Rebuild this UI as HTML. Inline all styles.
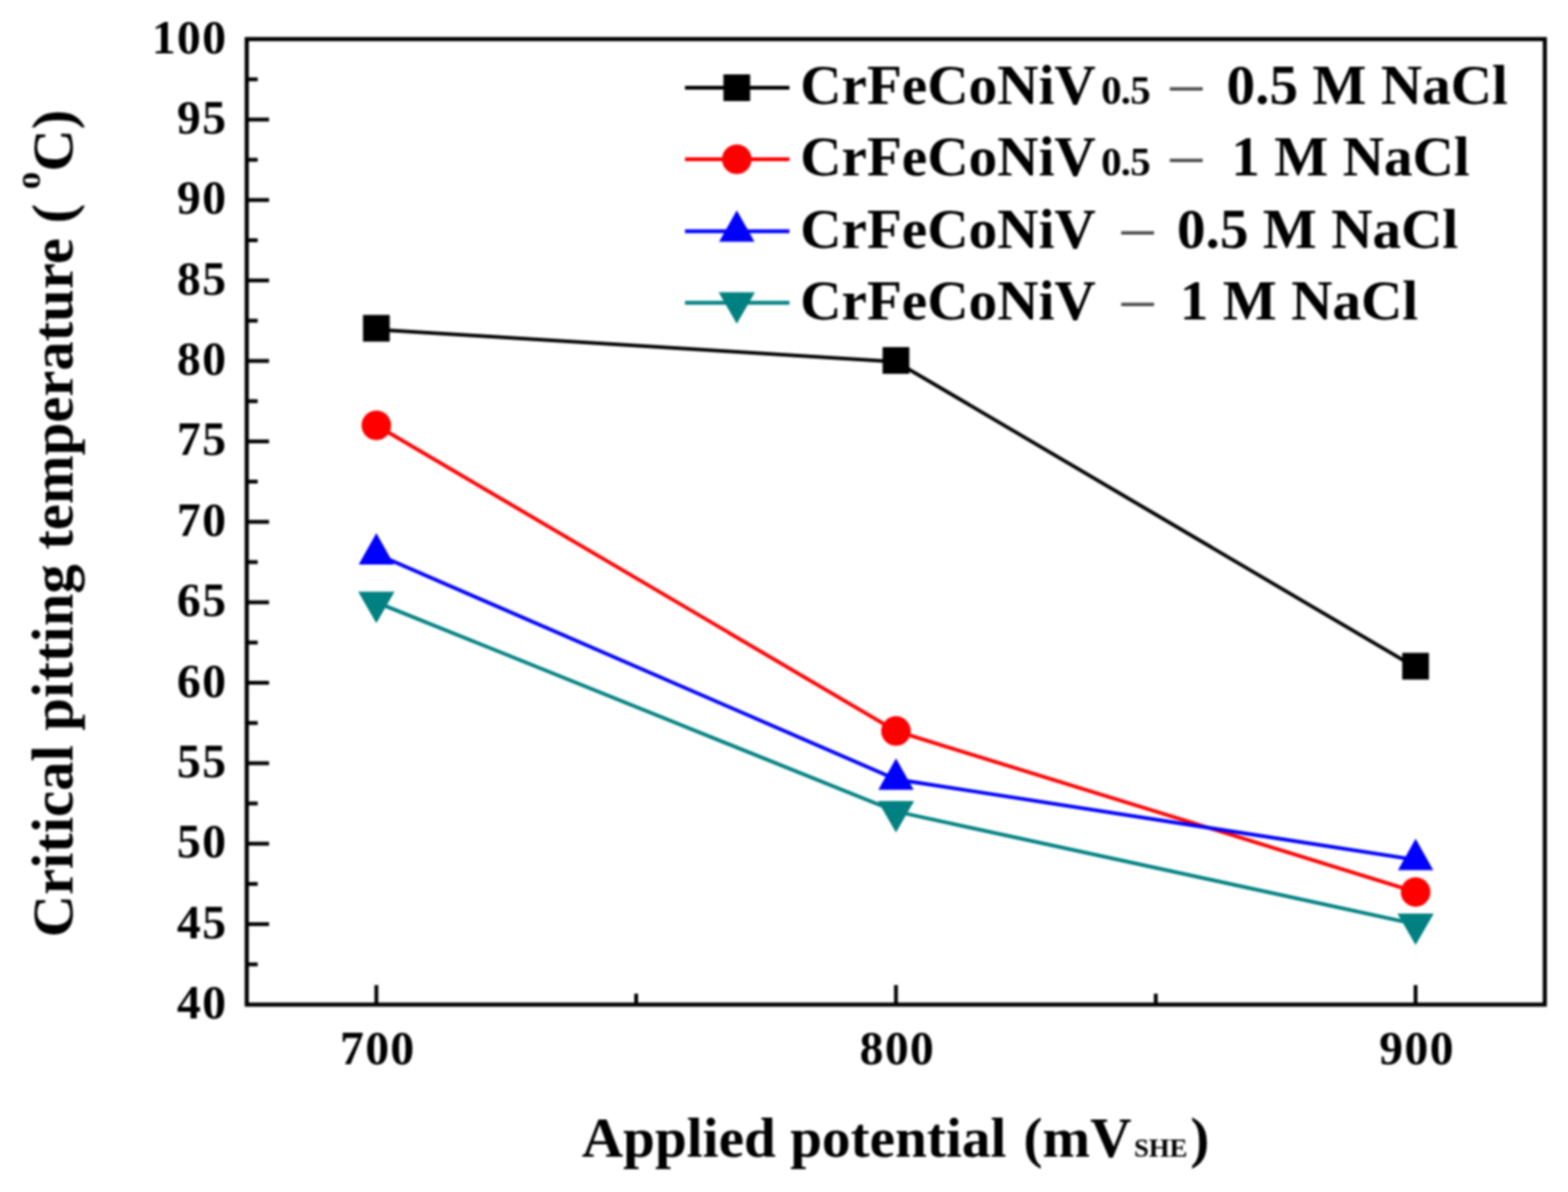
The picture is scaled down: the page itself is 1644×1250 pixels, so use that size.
<!DOCTYPE html>
<html><head><meta charset="utf-8"><title>Critical pitting temperature</title>
<style>
html,body{margin:0;padding:0;background:#fff;}
body{width:1644px;height:1250px;overflow:hidden;}
svg{display:block;}
.wrap{filter:blur(1px);}
text{font-family:'Liberation Serif', 'Times New Roman', serif;fill:#000;}
.b{font-weight:bold;}
.r{font-weight:normal;}
.t{letter-spacing:1.4px;}
.d{font-weight:normal;font-size:67px;fill:#4a4a4a;}
</style></head><body>
<div class="wrap"><svg width="1644" height="1250" viewBox="0 0 1644 1250">
<rect width="1644" height="1250" fill="#fff"/>
<rect x="258.7" y="41.0" width="1361.0" height="1012.5" fill="none" stroke="#000" stroke-width="4.3"/>
<line x1="258.7" y1="1011.31" x2="270.20" y2="1011.31" stroke="#000" stroke-width="4"/>
<line x1="258.7" y1="969.12" x2="282.10" y2="969.12" stroke="#000" stroke-width="4"/>
<line x1="258.7" y1="926.94" x2="270.20" y2="926.94" stroke="#000" stroke-width="4"/>
<line x1="258.7" y1="884.75" x2="282.10" y2="884.75" stroke="#000" stroke-width="4"/>
<line x1="258.7" y1="842.56" x2="270.20" y2="842.56" stroke="#000" stroke-width="4"/>
<line x1="258.7" y1="800.38" x2="282.10" y2="800.38" stroke="#000" stroke-width="4"/>
<line x1="258.7" y1="758.19" x2="270.20" y2="758.19" stroke="#000" stroke-width="4"/>
<line x1="258.7" y1="716.00" x2="282.10" y2="716.00" stroke="#000" stroke-width="4"/>
<line x1="258.7" y1="673.81" x2="270.20" y2="673.81" stroke="#000" stroke-width="4"/>
<line x1="258.7" y1="631.62" x2="282.10" y2="631.62" stroke="#000" stroke-width="4"/>
<line x1="258.7" y1="589.44" x2="270.20" y2="589.44" stroke="#000" stroke-width="4"/>
<line x1="258.7" y1="547.25" x2="282.10" y2="547.25" stroke="#000" stroke-width="4"/>
<line x1="258.7" y1="505.06" x2="270.20" y2="505.06" stroke="#000" stroke-width="4"/>
<line x1="258.7" y1="462.88" x2="282.10" y2="462.88" stroke="#000" stroke-width="4"/>
<line x1="258.7" y1="420.69" x2="270.20" y2="420.69" stroke="#000" stroke-width="4"/>
<line x1="258.7" y1="378.50" x2="282.10" y2="378.50" stroke="#000" stroke-width="4"/>
<line x1="258.7" y1="336.31" x2="270.20" y2="336.31" stroke="#000" stroke-width="4"/>
<line x1="258.7" y1="294.12" x2="282.10" y2="294.12" stroke="#000" stroke-width="4"/>
<line x1="258.7" y1="251.94" x2="270.20" y2="251.94" stroke="#000" stroke-width="4"/>
<line x1="258.7" y1="209.75" x2="282.10" y2="209.75" stroke="#000" stroke-width="4"/>
<line x1="258.7" y1="167.56" x2="270.20" y2="167.56" stroke="#000" stroke-width="4"/>
<line x1="258.7" y1="125.38" x2="282.10" y2="125.38" stroke="#000" stroke-width="4"/>
<line x1="258.7" y1="83.19" x2="270.20" y2="83.19" stroke="#000" stroke-width="4"/>
<line x1="394.60" y1="1053.5" x2="394.60" y2="1033.00" stroke="#000" stroke-width="4"/>
<line x1="939.40" y1="1053.5" x2="939.40" y2="1033.00" stroke="#000" stroke-width="4"/>
<line x1="1484.20" y1="1053.5" x2="1484.20" y2="1033.00" stroke="#000" stroke-width="4"/>
<line x1="667.00" y1="1053.5" x2="667.00" y2="1042.00" stroke="#000" stroke-width="4"/>
<line x1="1211.80" y1="1053.5" x2="1211.80" y2="1042.00" stroke="#000" stroke-width="4"/>
<text x="238.4" y="1068.00" text-anchor="end" class="b t" font-size="50">40</text>
<text x="238.4" y="983.62" text-anchor="end" class="b t" font-size="50">45</text>
<text x="238.4" y="899.25" text-anchor="end" class="b t" font-size="50">50</text>
<text x="238.4" y="814.88" text-anchor="end" class="b t" font-size="50">55</text>
<text x="238.4" y="730.50" text-anchor="end" class="b t" font-size="50">60</text>
<text x="238.4" y="646.12" text-anchor="end" class="b t" font-size="50">65</text>
<text x="238.4" y="561.75" text-anchor="end" class="b t" font-size="50">70</text>
<text x="238.4" y="477.38" text-anchor="end" class="b t" font-size="50">75</text>
<text x="238.4" y="393.00" text-anchor="end" class="b t" font-size="50">80</text>
<text x="238.4" y="308.62" text-anchor="end" class="b t" font-size="50">85</text>
<text x="238.4" y="224.25" text-anchor="end" class="b t" font-size="50">90</text>
<text x="238.4" y="139.88" text-anchor="end" class="b t" font-size="50">95</text>
<text x="238.4" y="55.50" text-anchor="end" class="b t" font-size="50">100</text>
<text x="396.10" y="1116" text-anchor="middle" class="b t" font-size="50">700</text>
<text x="940.90" y="1116" text-anchor="middle" class="b t" font-size="50">800</text>
<text x="1485.70" y="1116" text-anchor="middle" class="b t" font-size="50">900</text>
<polyline points="394.60,345.55 939.40,379.30 1484.20,699.92" fill="none" stroke="#000000" stroke-width="3.8" stroke-linejoin="round"/>
<rect x="380.60" y="330.25" width="28" height="28" fill="#000000"/>
<rect x="925.40" y="364.00" width="28" height="28" fill="#000000"/>
<rect x="1470.20" y="684.62" width="28" height="28" fill="#000000"/>
<polyline points="394.60,446.00 939.40,766.62 1484.20,935.38" fill="none" stroke="#ff0000" stroke-width="3.8" stroke-linejoin="round"/>
<circle cx="394.60" cy="446.00" r="15.5" fill="#ff0000"/>
<circle cx="939.40" cy="766.62" r="15.5" fill="#ff0000"/>
<circle cx="1484.20" cy="935.38" r="15.5" fill="#ff0000"/>
<polyline points="394.60,581.00 939.40,817.25 1484.20,901.62" fill="none" stroke="#0000ff" stroke-width="3.8" stroke-linejoin="round"/>
<polygon points="394.60,559.00 413.10,592.00 376.10,592.00" fill="#0000ff"/>
<polygon points="939.40,795.25 957.90,828.25 920.90,828.25" fill="#0000ff"/>
<polygon points="1484.20,879.62 1502.70,912.62 1465.70,912.62" fill="#0000ff"/>
<polyline points="394.60,631.62 939.40,851.00 1484.20,969.12" fill="none" stroke="#008080" stroke-width="3.8" stroke-linejoin="round"/>
<polygon points="394.60,653.62 413.60,620.62 375.60,620.62" fill="#008080"/>
<polygon points="939.40,873.00 958.40,840.00 920.40,840.00" fill="#008080"/>
<polygon points="1484.20,991.12 1503.20,958.12 1465.20,958.12" fill="#008080"/>
<line x1="718.2" y1="92.0" x2="827.7" y2="92.0" stroke="#000000" stroke-width="3.8"/>
<rect x="758.50" y="78.00" width="28" height="28" fill="#000000"/>
<line x1="718.2" y1="167.0" x2="827.7" y2="167.0" stroke="#ff0000" stroke-width="3.8"/>
<circle cx="772.50" cy="167.00" r="15.5" fill="#ff0000"/>
<line x1="718.2" y1="242.5" x2="827.7" y2="242.5" stroke="#0000ff" stroke-width="3.8"/>
<polygon points="772.50,220.50 791.00,253.50 754.00,253.50" fill="#0000ff"/>
<line x1="718.2" y1="317.5" x2="827.7" y2="317.5" stroke="#008080" stroke-width="3.8"/>
<polygon points="772.50,339.50 791.50,306.50 753.50,306.50" fill="#008080"/>
<text y="108.7" class="b" font-size="60"><tspan x="839">CrFeCoNiV</tspan><tspan font-size="43" letter-spacing="-0.9" x="1154.5">0.5</tspan><tspan class="d" x="1227">–</tspan><tspan x="1286">0.5 M NaCl</tspan></text>
<text y="184.2" class="b" font-size="60"><tspan x="839">CrFeCoNiV</tspan><tspan font-size="43" letter-spacing="-0.9" x="1154.5">0.5</tspan><tspan class="d" x="1227">–</tspan><tspan x="1291">1 M NaCl</tspan></text>
<text y="259.6" class="b" font-size="60"><tspan x="839">CrFeCoNiV</tspan><tspan class="d" x="1176">–</tspan><tspan x="1234">0.5 M NaCl</tspan></text>
<text y="335.0" class="b" font-size="60"><tspan x="839">CrFeCoNiV</tspan><tspan class="d" x="1176">–</tspan><tspan x="1237">1 M NaCl</tspan></text>
<text y="1213" class="b" font-size="60"><tspan x="610">Applied potential </tspan><tspan dx="3">(mV</tspan><tspan font-size="28" x="1189">SHE</tspan><tspan x="1248">)</tspan></text>
<text transform="translate(75.5,983) rotate(-90)" x="0" y="0" class="b" font-size="61.5">Critical pitting temperature ( <tspan font-size="37" dy="-34">o</tspan><tspan dy="34">C)</tspan></text>
</svg></div>
</body></html>
